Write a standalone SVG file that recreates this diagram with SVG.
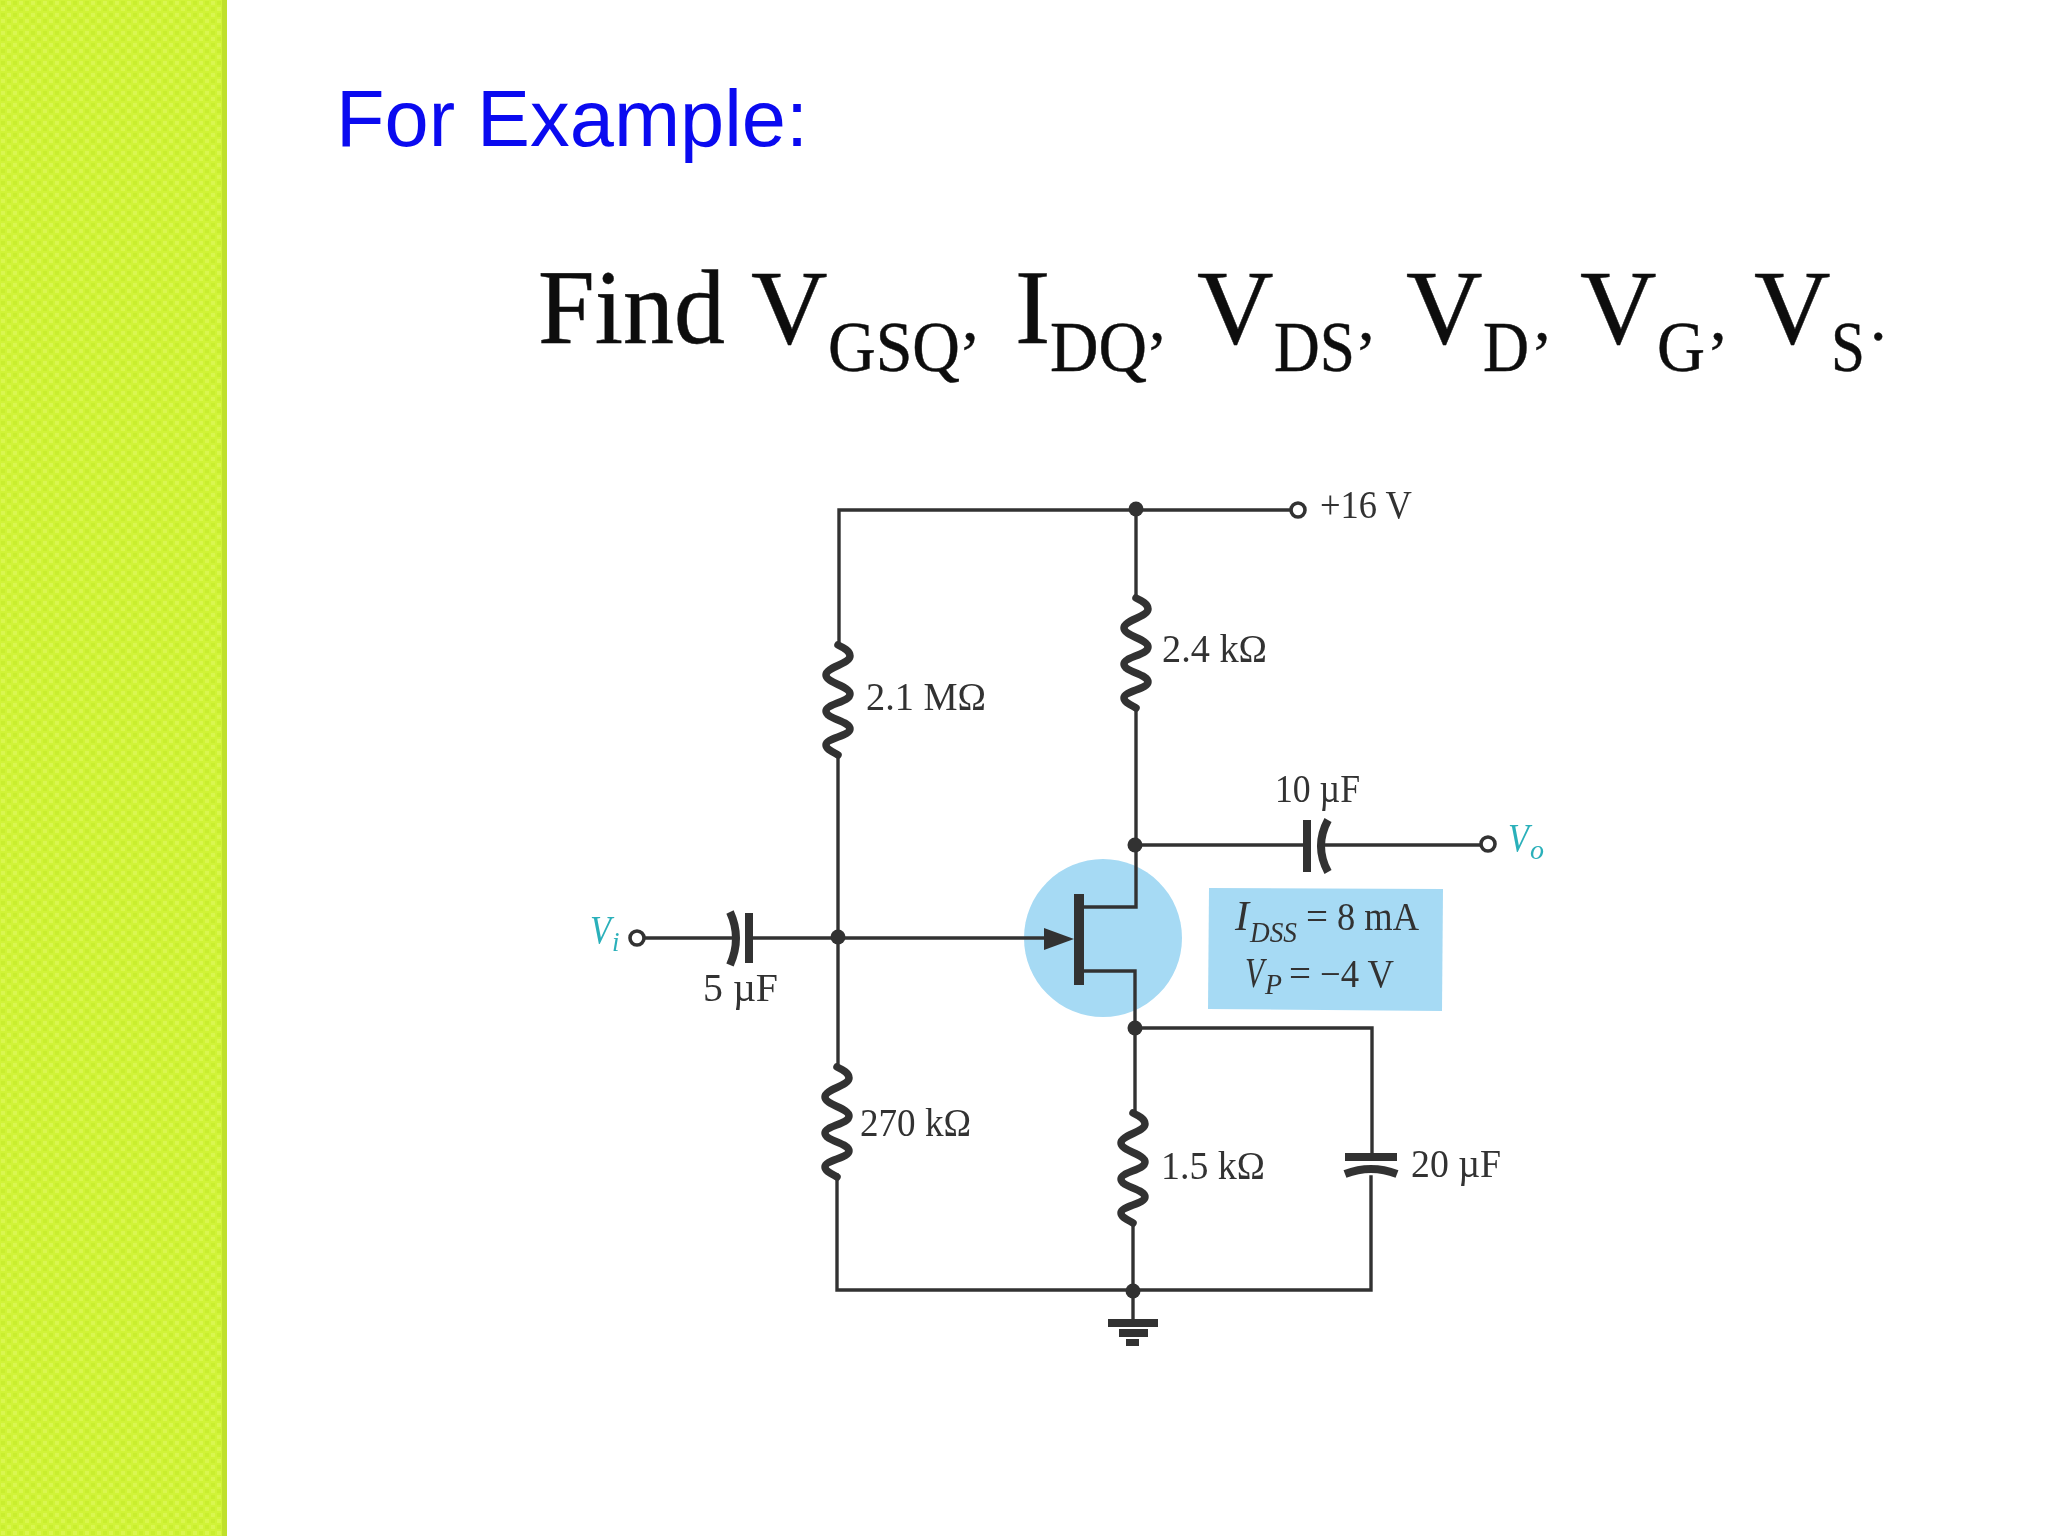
<svg xmlns="http://www.w3.org/2000/svg" width="2048" height="1536" viewBox="0 0 2048 1536">
<style>
.w{fill:none;stroke:#333;stroke-width:3.4;stroke-linecap:square}
.r{fill:none;stroke:#333;stroke-width:7.5;stroke-linecap:round;stroke-linejoin:round}
.p{fill:none;stroke:#333;stroke-width:8;stroke-linecap:butt}
.d{fill:#333}
.t{fill:none;stroke:#333;stroke-width:3.6}
.l{font-family:"Liberation Serif","Times New Roman",serif;font-size:39px;fill:#333}
.i{font-style:italic}
.c{font-family:"Liberation Serif","Times New Roman",serif;font-style:italic;fill:#2bb0ba}
.h{font-family:"Liberation Serif","Times New Roman",serif;fill:#111;stroke:#111;stroke-width:.5}
.hm{font-size:106px}
.hs{font-size:72px}
.hp{font-size:66px}
.b{fill:#a6daf4}
</style>
<defs>
<pattern id="dots" width="12" height="12" patternUnits="userSpaceOnUse">
<rect width="12" height="12" fill="#d1f338"/>
<rect x="1" y="1" width="4" height="4" fill="#c9ee2e"/>
<rect x="7" y="7" width="4" height="4" fill="#c9ee2e"/>
<rect x="7" y="1" width="4" height="4" fill="#daf650"/>
<rect x="1" y="7" width="4" height="4" fill="#daf650"/>
</pattern>
<path id="res" class="r" d="M0 0C6 3 12 6 12 11C12 19-12 22-12 30C-12 38 12 41 12 49C12 57-12 59-12 66C-12 74 12 76 12 84C12 91-12 93-12 100C-12 104-5 107 0 110"/>
<filter id="soft" x="-2%" y="-2%" width="104%" height="104%"><feGaussianBlur stdDeviation="0.7"/></filter>
</defs>
<rect width="2048" height="1536" fill="#fff"/>
<g id="sidebar">
<rect width="227" height="1536" fill="url(#dots)"/>
<rect x="222" width="5" height="1536" fill="#bfe02c"/>
</g>
<text id="title" x="336" y="146" font-family="'Liberation Sans',Arial,sans-serif" font-size="80" fill="#0a0af0" textLength="472" lengthAdjust="spacingAndGlyphs">For Example:</text>
<g id="question" class="h" filter="url(#soft)">
<text class="hm" x="538" y="343" textLength="187" lengthAdjust="spacingAndGlyphs">Find</text>
<text class="hm" x="751" y="343">V</text>
<text class="hs" x="828" y="371" textLength="132" lengthAdjust="spacingAndGlyphs">GSQ</text>
<text class="hp" x="962" y="340">,</text>
<text class="hm" x="1015" y="343">I</text>
<text class="hs" x="1050" y="371" textLength="97" lengthAdjust="spacingAndGlyphs">DQ</text>
<text class="hp" x="1149" y="340">,</text>
<text class="hm" x="1197" y="343">V</text>
<text class="hs" x="1274" y="371" textLength="81" lengthAdjust="spacingAndGlyphs">DS</text>
<text class="hp" x="1358" y="340">,</text>
<text class="hm" x="1406" y="343">V</text>
<text class="hs" x="1483" y="371" textLength="46" lengthAdjust="spacingAndGlyphs">D</text>
<text class="hp" x="1534" y="340">,</text>
<text class="hm" x="1580" y="343">V</text>
<text class="hs" x="1657" y="371" textLength="48" lengthAdjust="spacingAndGlyphs">G</text>
<text class="hp" x="1710" y="340">,</text>
<text class="hm" x="1754" y="343">V</text>
<text class="hs" x="1831" y="371" textLength="34" lengthAdjust="spacingAndGlyphs">S</text>
<text class="hp" x="1870" y="340">.</text>
</g>
<g id="circuit" filter="url(#soft)">
<g id="highlights">
<circle class="b" cx="1103" cy="938" r="79"/>
<polygon class="b" points="1209,888 1443,889 1442,1011 1208,1009"/>
</g>
<g id="connectors">
<path class="w" d="M1290 510H839V645"/>
<path class="w" d="M838 755V1067"/>
<path class="w" d="M837 1175V1290H1371V1177"/>
<path class="w" d="M1136 509V598"/>
<path class="w" d="M1136 708V907H1084"/>
<path class="w" d="M1084 971H1135V1113"/>
<path class="w" d="M1133 1222V1322"/>
<path class="w" d="M1135 1028H1372V1157"/>
<path class="w" d="M1136 845H1303"/>
<path class="w" d="M1322 845H1480"/>
<path class="w" d="M645 938H733"/>
<path class="w" d="M749 938H1050"/>
</g>
<g id="dots-junctions">
<circle class="d" cx="1136" cy="509" r="7.5"/>
<circle class="d" cx="1135" cy="845" r="7.5"/>
<circle class="d" cx="838" cy="937" r="7.5"/>
<circle class="d" cx="1135" cy="1028" r="7.5"/>
<circle class="d" cx="1133" cy="1291" r="7.5"/>
</g>
<g id="vdd-terminal">
<circle class="t" cx="1298" cy="510" r="7"/>
<text class="l" x="1320" y="518" textLength="92" lengthAdjust="spacingAndGlyphs">+16 V</text>
</g>
<g id="r-2-1M">
<use href="#res" x="838" y="645"/>
<text class="l" x="866" y="710" textLength="120" lengthAdjust="spacingAndGlyphs">2.1 MΩ</text>
</g>
<g id="r-2-4k">
<use href="#res" x="1136" y="598"/>
<text class="l" x="1162" y="662" textLength="105" lengthAdjust="spacingAndGlyphs">2.4 kΩ</text>
</g>
<g id="r-270k">
<use href="#res" x="837" y="1067"/>
<text class="l" x="860" y="1136" textLength="111" lengthAdjust="spacingAndGlyphs">270 kΩ</text>
</g>
<g id="r-1-5k">
<use href="#res" x="1133" y="1113"/>
<text class="l" x="1161" y="1179" textLength="104" lengthAdjust="spacingAndGlyphs">1.5 kΩ</text>
</g>
<g id="c-10u">
<path class="p" d="M1307 820V872"/>
<path class="p" d="M1328 820Q1314 846 1328 872"/>
<text class="l" x="1275" y="802" textLength="85" lengthAdjust="spacingAndGlyphs">10 µF</text>
</g>
<g id="c-5u">
<path class="p" d="M749 913V963"/>
<path class="p" d="M730 912Q742 938 730 965"/>
<text class="l" x="703" y="1001" textLength="75" lengthAdjust="spacingAndGlyphs">5 µF</text>
</g>
<g id="c-20u">
<path class="p" d="M1345 1157H1397"/>
<path class="p" d="M1345 1174Q1371 1164 1397 1174"/>
<text class="l" x="1411" y="1177" textLength="90" lengthAdjust="spacingAndGlyphs">20 µF</text>
</g>
<g id="jfet">
<rect class="d" x="1074" y="894" width="10" height="91"/>
<polygon class="d" points="1074,939 1044,928 1044,950"/>
</g>
<g id="ground">
<rect class="d" x="1108" y="1319" width="50" height="8"/>
<rect class="d" x="1119" y="1329" width="29" height="8"/>
<rect class="d" x="1126" y="1339" width="13" height="7"/>
</g>
<g id="vi">
<circle class="t" cx="637" cy="938" r="7"/>
<text class="c" x="590" y="943" font-size="40" textLength="21" lengthAdjust="spacingAndGlyphs">V</text>
<text class="c" x="612" y="951" font-size="27">i</text>
</g>
<g id="vo">
<circle class="t" cx="1488" cy="844" r="7"/>
<text class="c" x="1508" y="851" font-size="40" textLength="21" lengthAdjust="spacingAndGlyphs">V</text>
<text class="c" x="1530" y="859" font-size="28">o</text>
</g>
<g id="params">
<text class="l i" x="1235" y="930" style="font-size:42px">I</text>
<text class="l i" x="1250" y="942" style="font-size:29px" textLength="47" lengthAdjust="spacingAndGlyphs">DSS</text>
<text class="l" x="1306" y="930">=</text>
<text class="l" x="1337" y="930" textLength="82" lengthAdjust="spacingAndGlyphs">8 mA</text>
<text class="l i" x="1245" y="987" style="font-size:42px" textLength="19" lengthAdjust="spacingAndGlyphs">V</text>
<text class="l i" x="1265" y="994" style="font-size:29px" textLength="17" lengthAdjust="spacingAndGlyphs">P</text>
<text class="l" x="1289" y="987">=</text>
<text class="l" x="1320" y="987" textLength="74" lengthAdjust="spacingAndGlyphs">−4 V</text>
</g>
</g>
</svg>
